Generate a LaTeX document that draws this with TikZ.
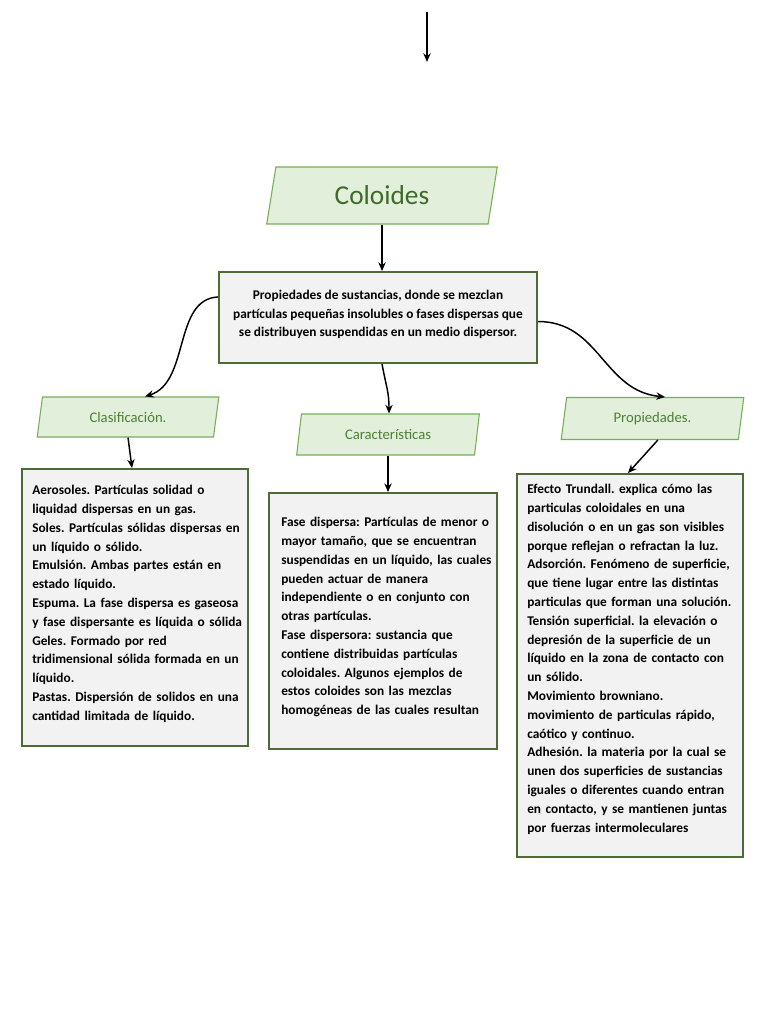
\documentclass[tikz,border=0pt]{standalone}
\usepackage{fontspec}
\setmainfont{Carlito}
\usetikzlibrary{shapes.geometric,arrows.meta}
\definecolor{parafill}{HTML}{E2EFDA}
\definecolor{paraedge}{HTML}{78AE55}
\definecolor{paratext}{HTML}{4F7F37}
\definecolor{titletext}{HTML}{3E6B2A}
\definecolor{boxfill}{HTML}{F2F2F2}
\definecolor{boxedge}{HTML}{4E6B35}
\frenchspacing
\begin{document}
\begin{tikzpicture}[x=0.75pt,y=-0.75pt,
  para/.style={trapezium, trapezium left angle=77, trapezium right angle=103,
    trapezium stretches=true, draw=paraedge, fill=parafill, line width=0.8pt,
    inner sep=0pt, text=paratext, font=\fontsize{11pt}{13pt}\selectfont},
  infobox/.style={rectangle, draw=boxedge, fill=boxfill, line width=1.4pt, inner sep=0pt},
  bodytext/.style={anchor=north west, inner sep=0pt, text width=172pt, align=left,
    font=\frenchspacing\bfseries\fontsize{10pt}{14.1pt}\selectfont},
  arr/.style={-{Stealth[length=6.5pt,width=5.5pt]}, line width=1.1pt, black}
]
\useasboundingbox (0,0) rectangle (768,1024);

% top stray arrow
\coordinate (topA) at (427,12);
\coordinate (topB) at (427,62);
\draw[arr] (topA) -- (topB);

% title
\node[para, trapezium left angle=78, trapezium right angle=102,
  minimum width=174pt, minimum height=42.75pt, text=titletext,
  font=\fontsize{20.5pt}{24pt}\selectfont] (col) at (382,195.5) {Coloides};

% main box
\node[infobox, minimum width=238.5pt, minimum height=68.25pt, align=center,
  text depth=6pt, font=\frenchspacing\bfseries\fontsize{10pt}{14.1pt}\selectfont] (main) at (378,317.5)
  {Propiedades de sustancias, donde se mezclan\\
   partículas pequeñas insolubles o fases dispersas que\\
   se distribuyen suspendidas en un medio dispersor.};

% level-2 labels
\node[para, minimum width=136.5pt, minimum height=30pt] (clas) at (128,417) {Clasificación.};
\node[para, minimum width=138pt, minimum height=30.75pt] (car) at (388,434.5) {Características};
\node[para, minimum width=137.25pt, minimum height=31.5pt, trapezium left angle=79, trapezium right angle=101] (prop) at (652.5,418.5) {Propiedades.};

% content boxes
\node[infobox, minimum width=169.5pt, minimum height=207.75pt] (lbox) at (135,607.5) {};
\node[infobox, minimum width=171pt, minimum height=192pt] (mbox) at (383,621) {};
\node[infobox, minimum width=169.5pt, minimum height=287.25pt] (rbox) at (630,665.5) {};

\node[bodytext] (ltxt) at (32,485) {%
Aerosoles. Partículas solidad o\\
liquidad dispersas en un gas.\\
Soles. Partículas sólidas dispersas en\\
un líquido o sólido.\\
Emulsión. Ambas partes están en\\
estado líquido.\\
Espuma. La fase dispersa es gaseosa\\
y fase dispersante es líquida o sólida\\
Geles. Formado por red\\
tridimensional sólida formada en un\\
líquido.\\
Pastas. Dispersión de solidos en una\\
cantidad limitada de líquido.};

\node[bodytext] (mtxt) at (281,517) {%
Fase dispersa: Partículas de menor o\\
mayor tamaño, que se encuentran\\
suspendidas en un líquido, las cuales\\
pueden actuar de manera\\
independiente o en conjunto con\\
otras partículas.\\
Fase dispersora: sustancia que\\
contiene distribuidas partículas\\
coloidales. Algunos ejemplos de\\
estos coloides son las mezclas\\
homogéneas de las cuales resultan};

\node[bodytext] (rtxt) at (527,484) {%
Efecto Trundall. explica cómo las\\
particulas coloidales en una\\
disolución o en un gas son visibles\\
porque reflejan o refractan la luz.\\
Adsorción. Fenómeno de superficie,\\
que tiene lugar entre las distintas\\
particulas que forman una solución.\\
Tensión superficial. la elevación o\\
depresión de la superficie de un\\
líquido en la zona de contacto con\\
un sólido.\\
Movimiento browniano.\\
movimiento de particulas rápido,\\
caótico y continuo.\\
Adhesión. la materia por la cual se\\
unen dos superficies de sustancias\\
iguales o diferentes cuando entran\\
en contacto, y se mantienen juntas\\
por fuerzas intermoleculares};

% connectors
\draw[arr] (col.south) -- (col.south |- main.north);
\draw[arr] ([yshift=15.4pt]main.west) .. controls +(-45,2) and +(45,-14) .. ([xshift=12.75pt]clas.north);
\draw[arr] ([xshift=3pt]main.south) .. controls +(4,22) and +(0,-22) .. ([xshift=0.75pt]car.north);
\draw[arr] ([yshift=-3pt]main.east) .. controls +(62,0) and +(-62,-6) .. ([xshift=9.4pt]prop.north);
\draw[arr] (clas.south) -- ([xshift=-2.25pt]lbox.north);
\draw[arr] (car.south) -- (car.south |- mbox.north);
\draw[arr] ([xshift=4pt]prop.south) -- ([xshift=-1.5pt]rbox.north);
\end{tikzpicture}
\end{document}
